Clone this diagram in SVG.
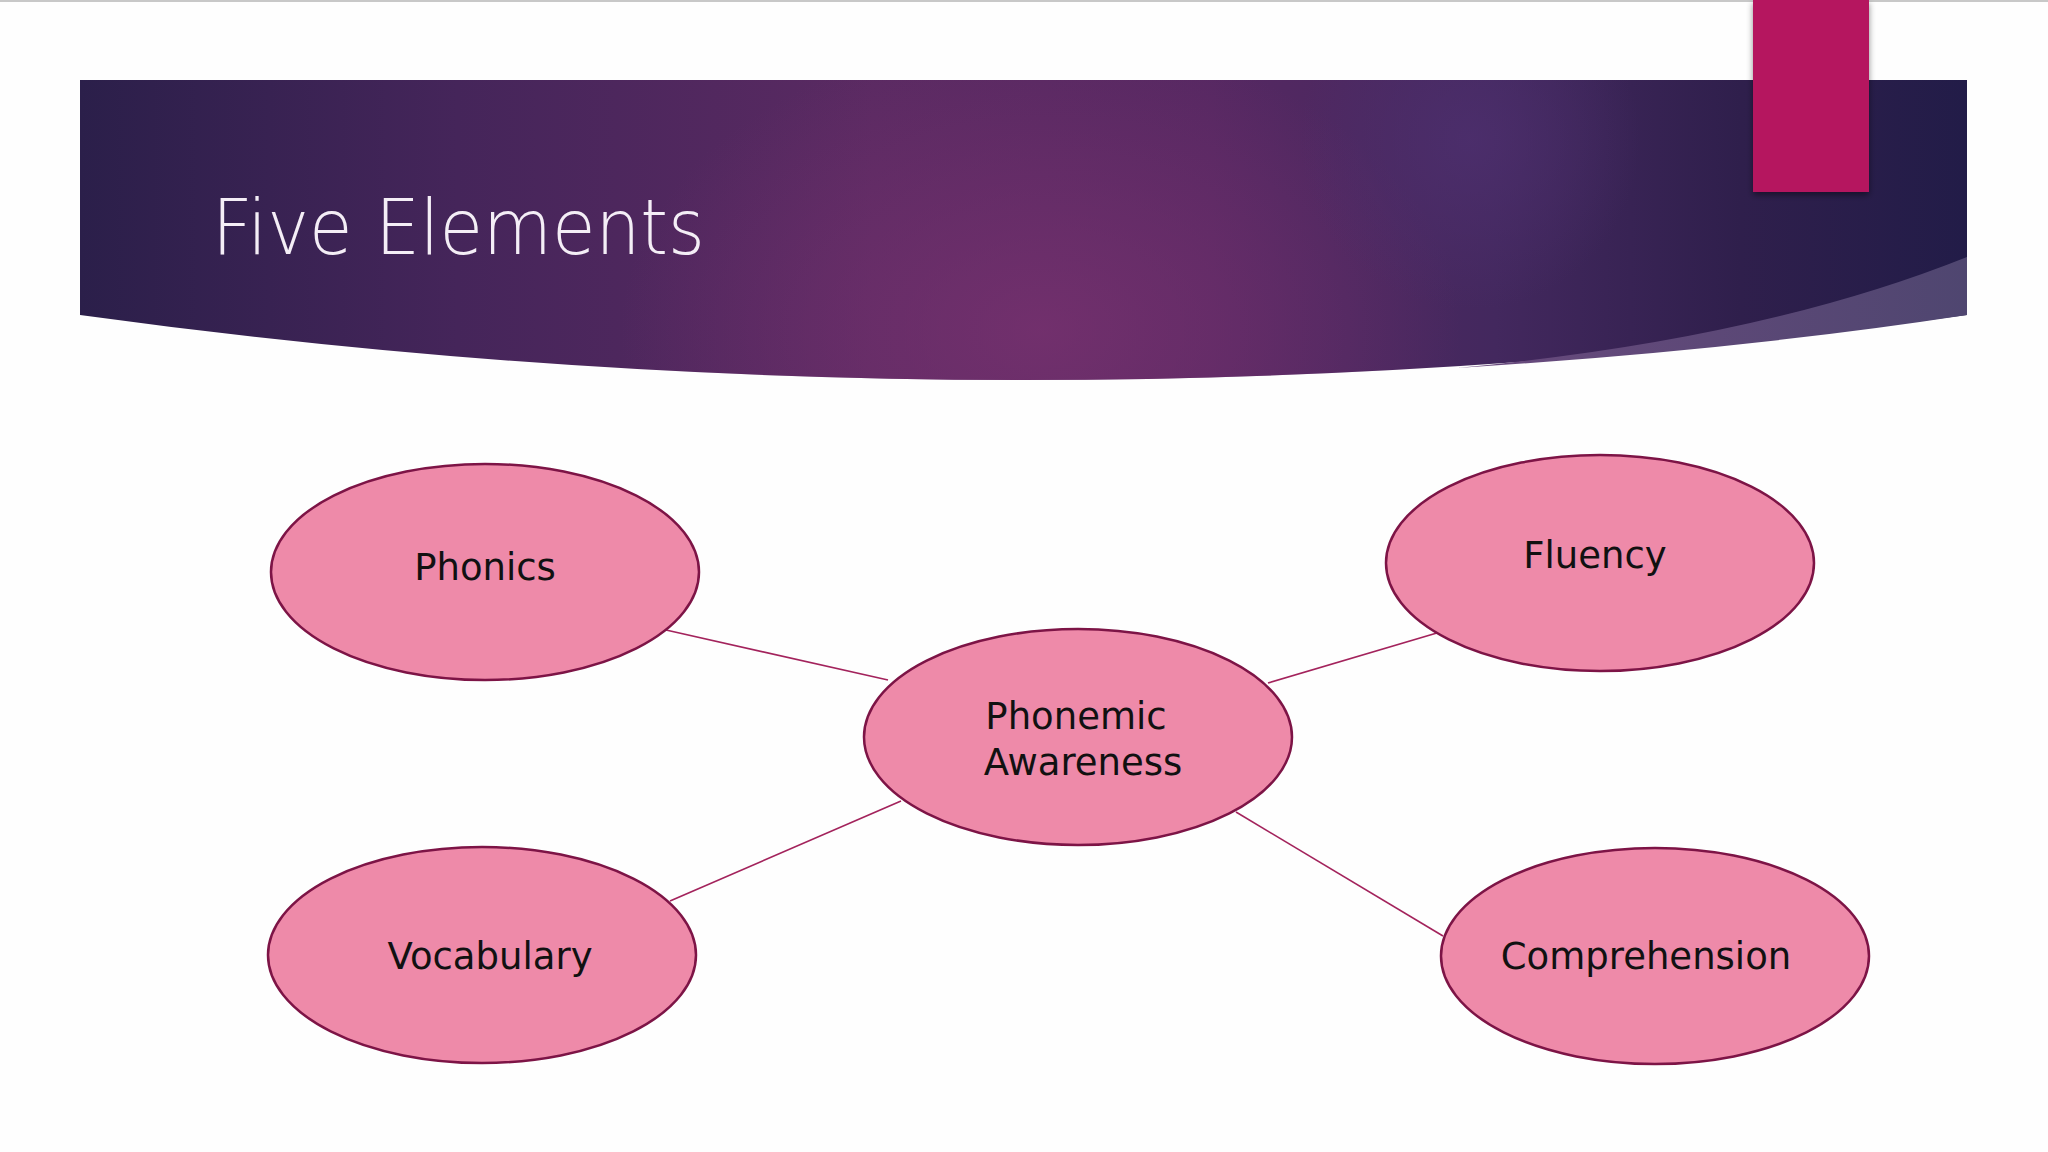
<svg xmlns="http://www.w3.org/2000/svg" width="2048" height="1152" viewBox="0 0 2048 1152">
  <defs>
    <linearGradient id="bandH" x1="80" y1="0" x2="1967" y2="0" gradientUnits="userSpaceOnUse">
      <stop offset="0" stop-color="#2b1f4a"/>
      <stop offset="0.2" stop-color="#45255a"/>
      <stop offset="0.42" stop-color="#5a2a62"/>
      <stop offset="0.6" stop-color="#562862"/>
      <stop offset="0.75" stop-color="#43285e"/>
      <stop offset="0.88" stop-color="#2f1f4c"/>
      <stop offset="1" stop-color="#221c48"/>
    </linearGradient>
    <radialGradient id="glowC" cx="1040" cy="330" r="420" gradientUnits="userSpaceOnUse" gradientTransform="translate(1040 330) scale(1 0.7) translate(-1040 -330)">
      <stop offset="0" stop-color="#7a3270" stop-opacity="0.75"/>
      <stop offset="1" stop-color="#7a3270" stop-opacity="0"/>
    </radialGradient>
    <radialGradient id="glowR" cx="1470" cy="140" r="170" gradientUnits="userSpaceOnUse">
      <stop offset="0" stop-color="#4d2f6e" stop-opacity="0.8"/>
      <stop offset="1" stop-color="#4d2f6e" stop-opacity="0"/>
    </radialGradient>
    <linearGradient id="sliver" x1="1457" y1="0" x2="1967" y2="0" gradientUnits="userSpaceOnUse">
      <stop offset="0" stop-color="#6a4a7e"/>
      <stop offset="1" stop-color="#4f4670"/>
    </linearGradient>
    <filter id="shadow" x="-20%" y="-10%" width="140%" height="130%">
      <feDropShadow dx="0" dy="3" stdDeviation="3" flood-color="#000" flood-opacity="0.45"/>
    </filter>
  </defs>
  <style>
    .node ellipse { fill: #ee8aa9; stroke: #7d1446; stroke-width: 2.5; }
    .node text { font-family: "DejaVu Sans", "Liberation Sans", sans-serif; font-size: 37px; fill: #111; text-anchor: middle; }
    .conn line { stroke: #a3235c; stroke-width: 1.6; }
  </style>
  <rect x="0" y="0" width="2048" height="1152" fill="#fefefe"/>
  <rect x="0" y="0" width="2048" height="2" fill="#c8c8c8"/>

  <g id="header">
    <path d="M80,80 H1967 V315 Q1023,445 80,315 Z" fill="url(#bandH)"/>
    <path d="M80,80 H1967 V315 Q1023,445 80,315 Z" fill="url(#glowC)"/>
    <path d="M80,80 H1967 V315 Q1023,445 80,315 Z" fill="url(#glowR)"/>
    <path d="M1967,257 Q1760,340 1457,368 Q1740,350 1967,315 Z" fill="url(#sliver)"/>
    <rect x="1753" y="0" width="116" height="192" fill="#b5145f" filter="url(#shadow)"/>
    <text x="212" y="254" font-family="DejaVu Sans, Liberation Sans, sans-serif" font-weight="200" font-size="76" fill="#f4eef6" textLength="493" lengthAdjust="spacingAndGlyphs">Five Elements</text>
  </g>

  <g id="connectors" class="conn">
    <line x1="666" y1="630" x2="888" y2="680"/>
    <line x1="1268" y1="683" x2="1447" y2="630"/>
    <line x1="901" y1="801" x2="670" y2="901"/>
    <line x1="1236" y1="812" x2="1443" y2="936"/>
  </g>

  <g id="node-phonics" class="node">
    <ellipse cx="485" cy="572" rx="214" ry="108"/>
    <text x="485" y="580">Phonics</text>
  </g>
  <g id="node-fluency" class="node">
    <ellipse cx="1600" cy="563" rx="214" ry="108"/>
    <text x="1595" y="568">Fluency</text>
  </g>
  <g id="node-phonemic-awareness" class="node">
    <ellipse cx="1078" cy="737" rx="214" ry="108"/>
    <text x="1076" y="729">Phonemic</text>
    <text x="1083" y="775">Awareness</text>
  </g>
  <g id="node-vocabulary" class="node">
    <ellipse cx="482" cy="955" rx="214" ry="108"/>
    <text x="490" y="969">Vocabulary</text>
  </g>
  <g id="node-comprehension" class="node">
    <ellipse cx="1655" cy="956" rx="214" ry="108"/>
    <text x="1646" y="969">Comprehension</text>
  </g>
</svg>
